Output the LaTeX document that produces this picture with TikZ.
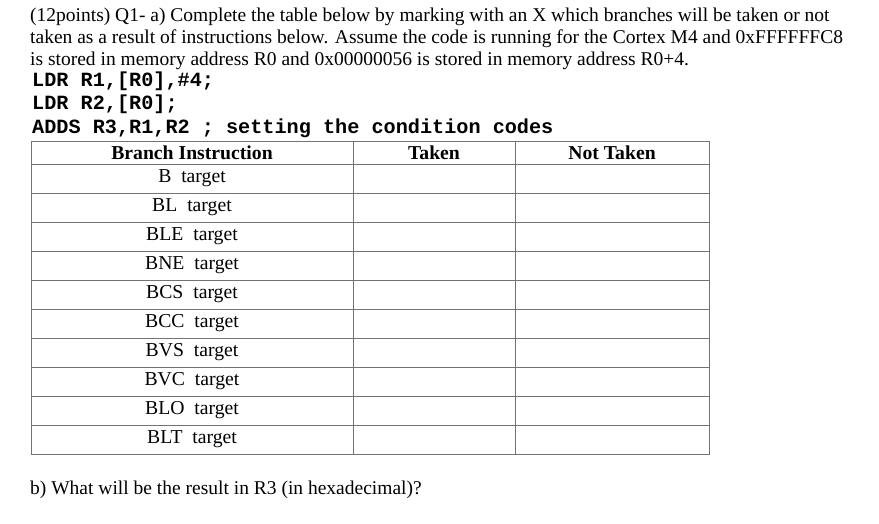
\documentclass[tikz,border=0pt]{standalone}
\usepackage{fontspec}
\setmainfont{Liberation Serif}
\newfontfamily\codefont{Liberation Mono}
\begin{document}
\begin{tikzpicture}[x=1pt,y=-1pt,
  txt/.style={anchor=base west,inner sep=0pt,font=\fontsize{19.5}{22}\selectfont},
  code/.style={anchor=base west,inner sep=0pt,font=\codefont\bfseries\fontsize{20.2}{22}\selectfont},
  cell/.style={inner sep=0pt,font=\fontsize{19.7}{22}\selectfont},
  hcell/.style={inner sep=0pt,font=\bfseries\fontsize{19.7}{22}\selectfont},
  grid/.style={draw=black!55,line width=0.8pt}]
\useasboundingbox[fill=white] (0,0) rectangle (879,524);
\node[txt] (l1) at (30,22) {(12points) Q1- a) Complete the table below by marking with an X which branches will be taken or not};
\node[txt] (l2) at (30,44) {taken as a result of instructions below. Assume the code is running for the Cortex M4 and 0xFFFFFFC8};
\node[txt] (l3) at (30,66) {is stored in memory address R0 and 0x00000056 is stored in memory address R0+4.};
\node[code] (c1) at (32,87) {LDR R1,[R0],\#4;};
\node[code] (c2) at (32,110) {LDR R2,[R0];};
\node[code] (c3) at (32,134) {ADDS R3,R1,R2 ; setting the condition codes};
\draw[grid] (31,141) rectangle (709,454);
\draw[grid] (353,141) -- (353,454) (515,141) -- (515,454);
\foreach \y in {164,193,222,251,280,309,338,367,396,425} \draw[grid] (31,\y) -- (709,\y);
\node[hcell] (h1) at (192,153) {Branch Instruction};
\node[hcell] (h2) at (434,153) {Taken};
\node[hcell] (h3) at (612,153) {Not Taken};
\foreach \t [count=\i] in {B,BL,BLE,BNE,BCS,BCC,BVS,BVC,BLO,BLT}
  \node[cell] (r\i) at (192,164+29*\i-14.5) {\t\ \ target};
\node[txt] (q) at (30,494) {b) What will be the result in R3 (in hexadecimal)?};
\end{tikzpicture}
\end{document}
